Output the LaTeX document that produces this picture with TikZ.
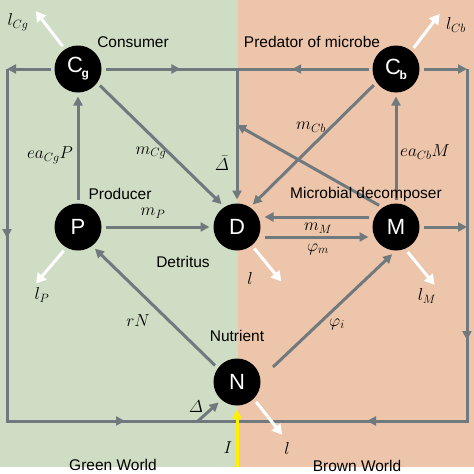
\documentclass[tikz,border=0pt]{standalone}
\usepackage{amsmath}
\usepackage{fontspec}
\setmainfont{Liberation Sans}
\usetikzlibrary{arrows.meta,decorations.markings,calc}
\definecolor{greenbg}{RGB}{207,221,196}
\definecolor{brownbg}{RGB}{237,197,171}
\definecolor{flow}{RGB}{112,122,126}
\definecolor{sun}{RGB}{255,240,0}
\begin{document}
\begin{tikzpicture}[x=1pt,y=-1pt,
  pool/.style={circle,fill=black,minimum size=47pt,inner sep=0pt,outer sep=4pt,text=white,font=\fontsize{22}{24}\selectfont},
  lab/.style={font=\fontsize{15.5}{18}\selectfont,inner sep=0pt},
  mlab/.style={font=\fontsize{17.5}{20}\selectfont,inner sep=0pt},
  gline/.style={draw=flow,line width=3pt},
  garr/.style={draw=flow,line width=3pt,-{Triangle[length=9pt,width=9pt]}},
  warr/.style={draw=white,line width=3pt,-{Triangle[length=10pt,width=11pt]}},
  yarr/.style={draw=sun,line width=3pt,-{Triangle[length=9pt,width=9pt]}},
  midarr/.style={postaction={decorate},decoration={markings,mark=at position #1 with {\arrow[flow]{Triangle[length=9pt,width=9pt]}}}},
]
% background
\fill[greenbg] (0,0) rectangle (238,467);
\fill[brownbg] (238,0) rectangle (474,467);
\fill[white] (0,467) rectangle (474,474);
\useasboundingbox (0,0) rectangle (474,474);

% pools
\node[pool] (Cg) at (78,69) {C\kern-1.5pt\raisebox{-5pt}{\fontsize{12}{12}\selectfont\bfseries g}};
\node[pool] (Cb) at (396,69) {C\kern-1.5pt\raisebox{-5pt}{\fontsize{12}{12}\selectfont\bfseries b}};
\node[pool] (P) at (78,227) {P};
\node[pool] (D) at (237,227) {D};
\node[pool] (M) at (396,227) {M};
\node[pool] (N) at (237,382) {N};

% corner coordinates
\coordinate (cTL) at (7,69);
\coordinate (cBL) at (7,421);
\coordinate (cBR) at (467,421);
\coordinate (cTR) at (467,69);
\coordinate (cTop) at (237,69);
\coordinate (cMid) at (237,125);
\coordinate (cMR) at (467,227);
\coordinate (cDel) at (198,421);
\coordinate (cSun) at (237,467);

% outer loop
\draw[gline,postaction={decorate},decoration={markings,
  mark=at position 169pt with {\arrow[flow]{Triangle[length=9pt,width=9pt]}},
  mark=at position 470pt with {\arrow[flow]{Triangle[length=9pt,width=9pt]}},
  mark=at position 712pt with {\arrowreversed[flow]{Triangle[length=9pt,width=9pt]}},
  mark=at position 893pt with {\arrowreversed[flow]{Triangle[length=9pt,width=9pt]}}}]
  (cTL) -- (cBL) -- (cBR) -- (cTR);
\draw[garr] (Cg.west) -- (cTL);
\draw[garr] (Cb.east) -- (cTR);
\draw[garr] (M.east) -- (cMR);

% top flows into detritus
\draw[gline,midarr=0.57] (Cg.east) -- (cTop);
\draw[gline,midarr=0.58] (Cb.west) -- (cTop);
\draw[garr] (cTop) -- (D.north);

% internal flows
\draw[garr] (P.north) -- (Cg.south);
\draw[garr] (Cg.-37) -- (D.124);
\draw[garr] (P.east) -- (D.west);
\draw[garr] (Cb.216) -- (D.55);
\draw[garr] (M.128) -- (cMid);
\draw[garr] (M.north) -- (Cb.south);
\draw[garr] ([yshift=10pt]M.west) -- ([yshift=10pt]D.east);
\draw[garr] ([yshift=-10pt]D.east) -- ([yshift=-10pt]M.west);
\draw[garr] (N.143) -- (P.-52);
\draw[garr] ($(N)+(36,-15)$) -- (M.262);
\draw[garr] (cDel) -- (N.228);
\draw[yarr] (cSun) -- (N.south);

% losses
\draw[warr] (Cg.124) -- ++(-27,-35);
\draw[warr] (Cb.50) -- ++(26,-34);
\draw[warr] (P.239) -- ++(-28,33);
\draw[warr] (D.-51) -- ++(27,33);
\draw[warr] (M.-65) -- ++(27,33);
\draw[warr] (N.-46) -- ++(26,33);

% math labels
\node[mlab] (tlCg) at (18,22) {$l_{Cg}$};
\node[mlab] (tlCb) at (456,25) {$l_{Cb}$};
\node[mlab] (tlP) at (42,295) {$l_P$};
\node[mlab] (tlD) at (250,278) {$l$};
\node[mlab] (tlM) at (427,296) {$l_M$};
\node[mlab] (tlN) at (287,448) {$l$};
\node[mlab] (tI) at (228,448) {$I$};
\node[mlab] (tDel) at (196,407) {$\varDelta$};
\node[mlab] (tDelb) at (222,163) {$\bar{\varDelta}$};
\node[mlab] (teaCg) at (50,155) {$ea_{Cg}P$};
\node[mlab] (tmCg) at (151,153) {$m_{Cg}$};
\node[mlab] (tmP) at (153,213) {$m_P$};
\node[mlab] (tmCb) at (311,127) {$m_{Cb}$};
\node[mlab] (teaCb) at (425,152) {$ea_{Cb}M$};
\node[mlab] (tmM) at (318,228) {$m_M$};
\node[mlab] (tphim) at (318,249) {$\varphi_m$};
\node[mlab] (trN) at (138,321) {$rN$};
\node[mlab] (tphii) at (337,324) {$\varphi_i$};

% text labels
\node[lab] (tCons) at (133,42) {Consumer};
\node[lab] (tPred) at (312,42) {Predator of microbe};
\node[lab] (tProd) at (120,194) {Producer};
\node[lab] (tMic) at (366,194) {Microbial decomposer};
\node[lab] (tDet) at (183,262) {Detritus};
\node[lab] (tNut) at (237,336) {Nutrient};
\node[lab] (tGW) at (113,465) {Green World};
\node[lab] (tBW) at (357,466) {Brown World};
\end{tikzpicture}
\end{document}
